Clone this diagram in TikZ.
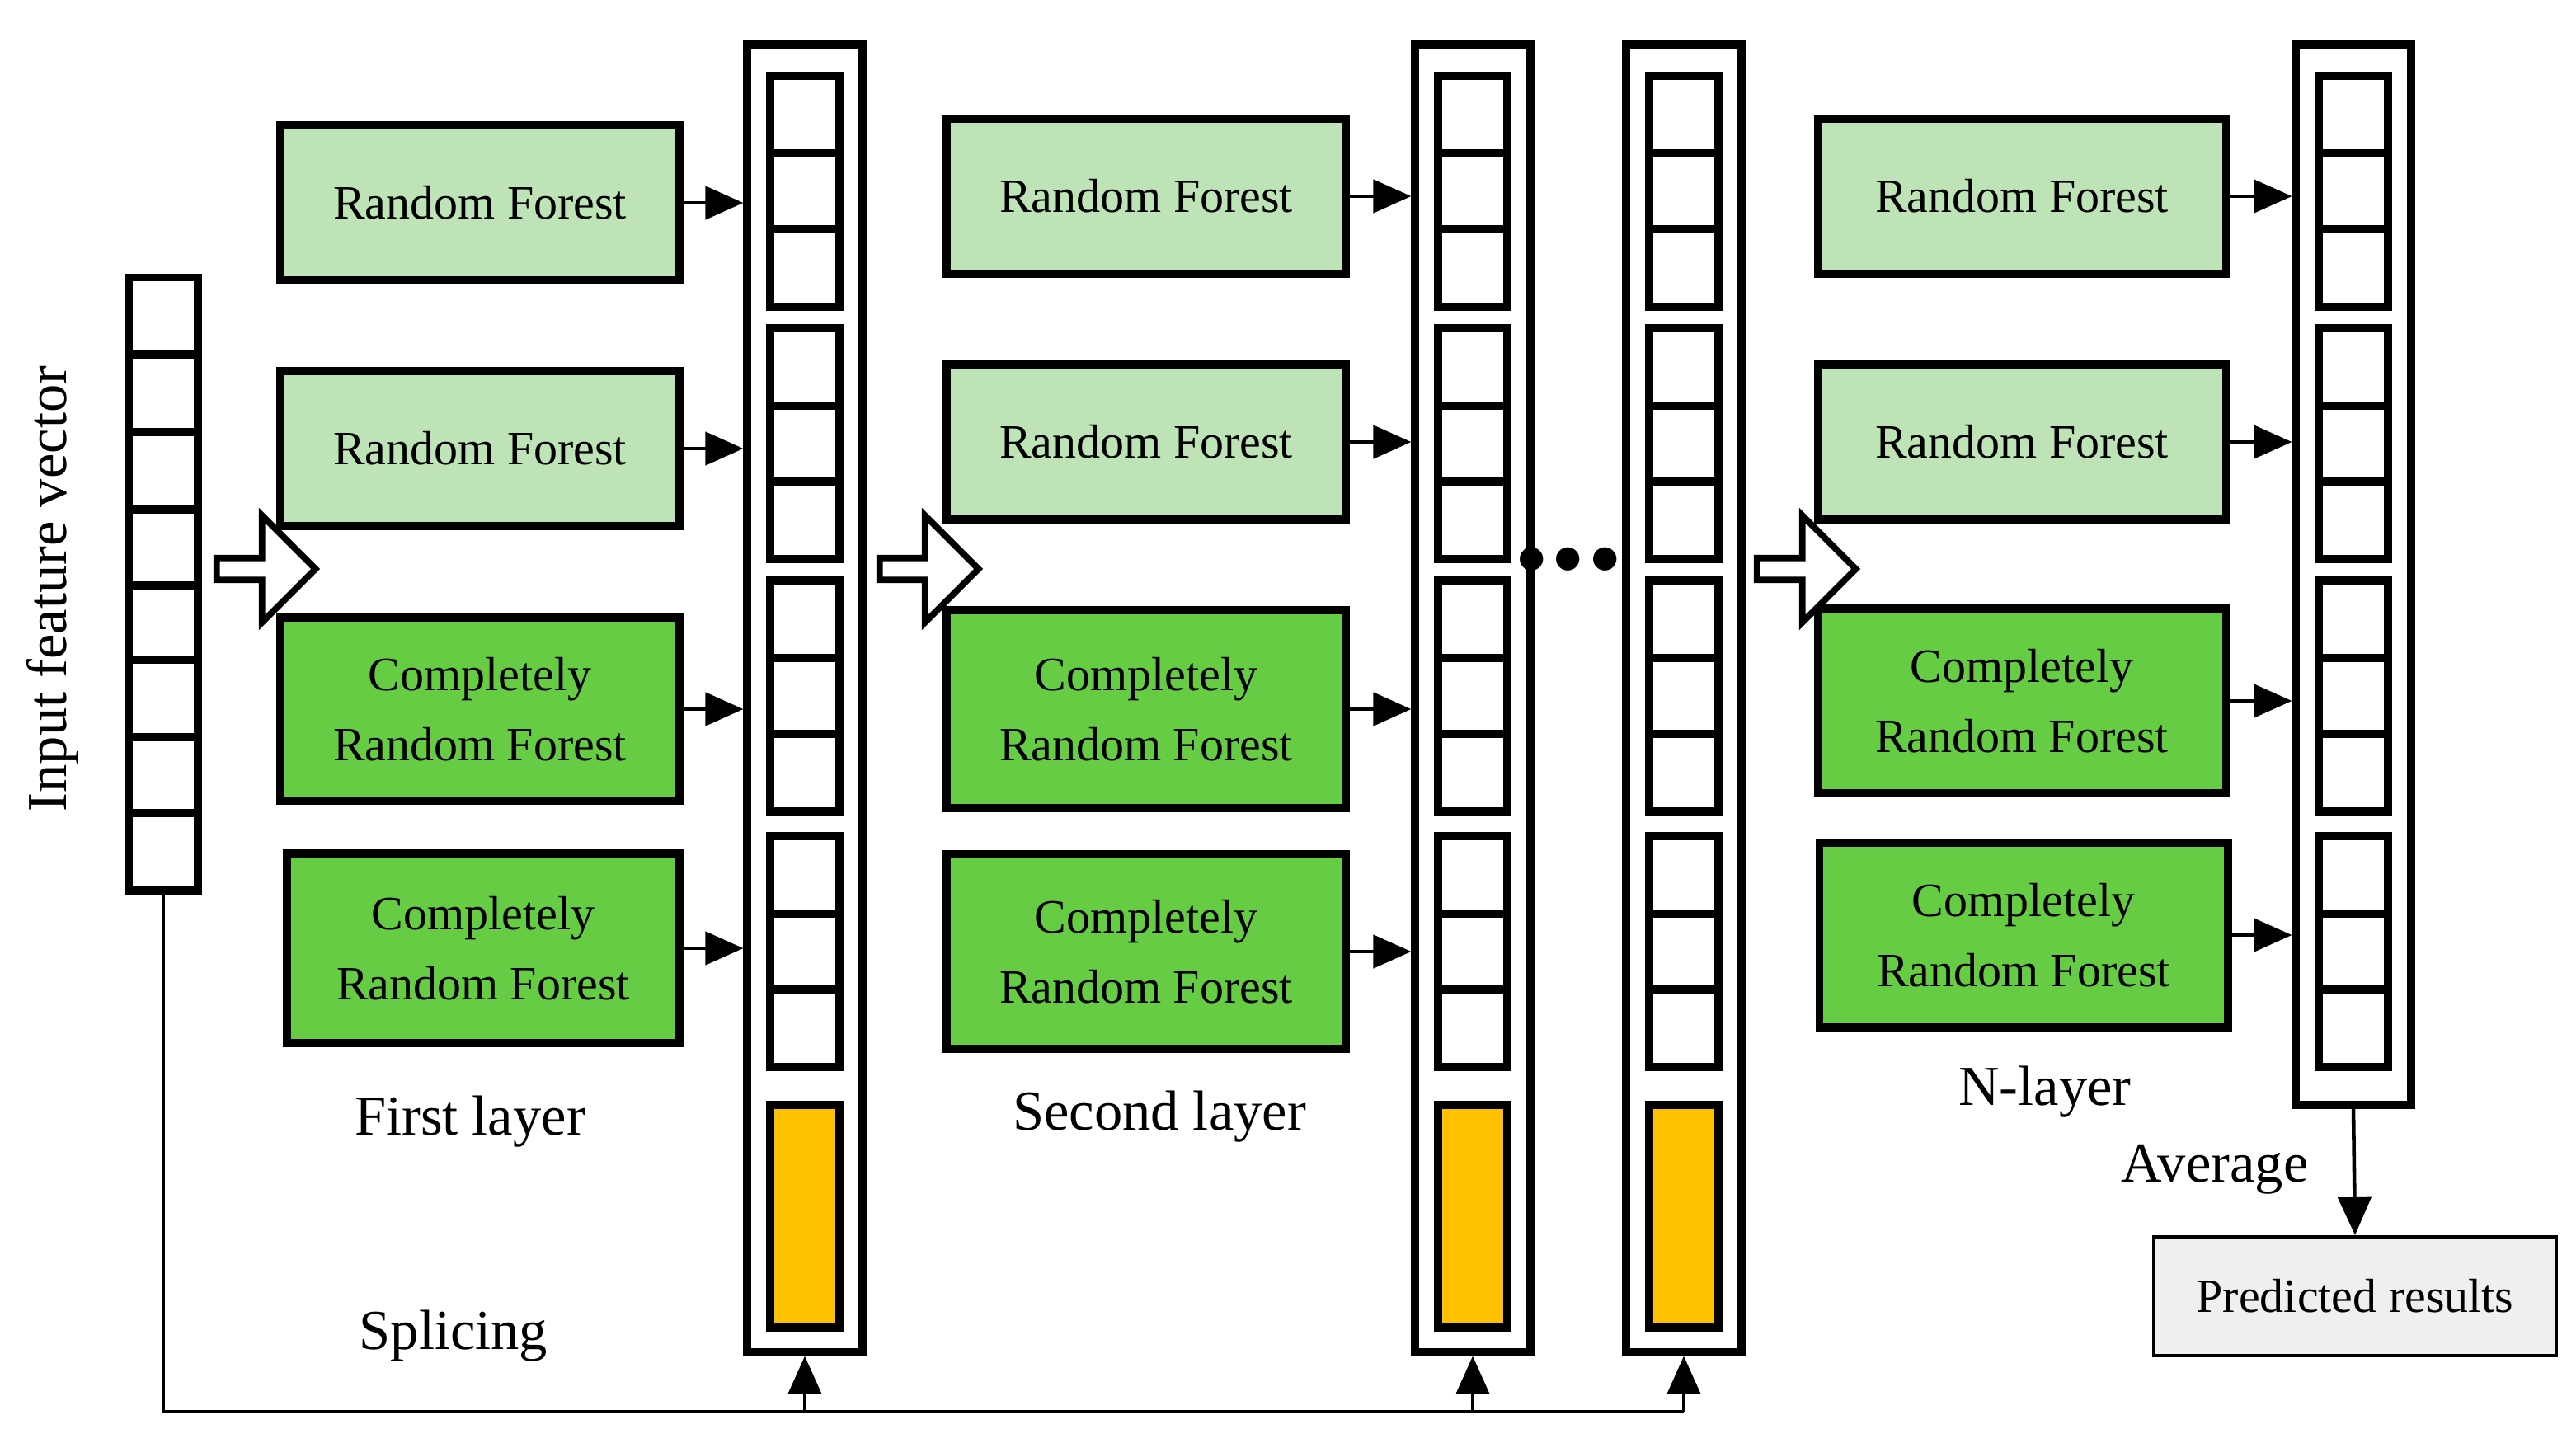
\documentclass[tikz,border=0pt]{standalone}
\usepackage{fontspec}
\setmainfont{Liberation Serif}
\usetikzlibrary{positioning, calc, arrows.meta, shapes.arrows}

\begin{document}
\begin{tikzpicture}[x=0.02cm, y=-0.02cm, font=\fontsize{16.5}{24}\selectfont, align=center, line width=2.6pt,
    forest/.style={draw, fill=lightforest, minimum width=4.84cm, minimum height=1.88cm, inner sep=0pt},
    crforest/.style={draw, fill=darkforest, minimum width=4.84cm, minimum height=2.3cm, inner sep=0pt},
    column/.style={draw, minimum width=1.4cm, inner sep=0pt},
    hollow/.style={single arrow, draw, fill=white, minimum height=1.2cm, minimum width=1.3cm, single arrow head extend=0.15cm, inner sep=0pt, line width=2.2pt},
    link/.style={-{Triangle[length=0.46cm, width=0.4cm]}, line width=1.3pt},
    label/.style={font=\fontsize{19.5}{22}\selectfont}]
    % Define colors
    \definecolor{lightforest}{HTML}{BDE3B7}
    \definecolor{darkforest}{HTML}{66CC44}
    \definecolor{splice}{HTML}{FFC000}
    \definecolor{result}{HTML}{EFEFEF}
    \useasboundingbox (0,0) rectangle (1562,874.5);

    % Input vector
    \node[draw, minimum width=0.84cm, minimum height=7.44cm, inner sep=0pt] (input) at (99,354) {};
    \foreach \y in {215,262,309,355,400,447,493} \draw (78,\y) -- (120,\y);
    \node[label, rotate=90] (inlabel) at (32,357) {Input feature vector};

    % Columns
    \foreach \name/\x/\top/\bot in {c1/488/27/820, c2/893/27/820, c3/1021/27/820, cn/1427/27/670} {
        \node[column, minimum height={(\bot-\top)*0.02cm}] (\name) at (\x,{(\top+\bot)/2}) {};
        \foreach \g in {46,199,352,507} {
            \draw (\x-21,\g) rectangle (\x+21,\g+140);
            \draw (\x-21,\g+47) -- (\x+21,\g+47);
            \draw (\x-21,\g+93) -- (\x+21,\g+93);
        }
    }
    \foreach \x in {488,893,1021} \draw[fill=splice] (\x-21,670) rectangle (\x+21,805);

    % Layer boxes
    \node[forest] (a1) at (291,123) {Random Forest};
    \node[forest] (a2) at (291,272) {Random Forest};
    \node[crforest, minimum height=2.22cm] (a3) at (291,430) {Completely\\Random Forest};
    \node[crforest, minimum width=4.76cm] (a4) at (293,575) {Completely\\Random Forest};
    \node[forest] (b1) at (695,119) {Random Forest};
    \node[forest] (b2) at (695,268) {Random Forest};
    \node[crforest, minimum height=2.4cm] (b3) at (695,430) {Completely\\Random Forest};
    \node[crforest, minimum height=2.36cm] (b4) at (695,577) {Completely\\Random Forest};
    \node[forest, minimum width=4.96cm] (n1) at (1226,119) {Random Forest};
    \node[forest, minimum width=4.96cm] (n2) at (1226,268) {Random Forest};
    \node[crforest, minimum width=4.96cm, minimum height=2.24cm] (n3) at (1226,425) {Completely\\Random Forest};
    \node[crforest, minimum width=4.96cm, minimum height=2.24cm] (n4) at (1227,567) {Completely\\Random Forest};

    % Edges
    \foreach \i in {1,...,4} {
        \draw[link] (a\i.east) -- (a\i.east -| c1.west);
        \draw[link] (b\i.east) -- (b\i.east -| c2.west);
        \draw[link] (n\i.east) -- (n\i.east -| cn.west);
    }

    % Hollow arrows and dots
    \node[hollow] (h1) at (158,345) {};
    \node[hollow] (h2) at (560,345) {};
    \node[hollow] (h3) at (1092,345) {};
    \node[font=\fontsize{22}{22}\selectfont, inner sep=0pt] (dots) at (951,340) {$\bullet\mkern-2mu\bullet\mkern-2mu\bullet$};

    % Labels
    \node[label] (l1) at (285,680) {First layer};
    \node[label] (l2) at (703,677) {Second layer};
    \node[label] (l3) at (1240,662) {N-layer};
    \node[label] (avg) at (1343,709) {Average};
    \node[label] (splicing) at (275,810) {Splicing};

    % Result
    \node[draw, fill=result, line width=1.2pt, minimum width=4.88cm, minimum height=1.44cm] (res) at (1428,786) {Predicted results};
    \draw[link] (cn.south) -- (res.north);

    % Splicing line
    \coordinate (base) at (99,856);
    \draw[line width=1.3pt] (input.south) -- (base) -- (base -| c3.south);
    \foreach \c in {c1,c2,c3} \draw[link] (base -| \c.south) -- (\c.south);
\end{tikzpicture}
\end{document}
